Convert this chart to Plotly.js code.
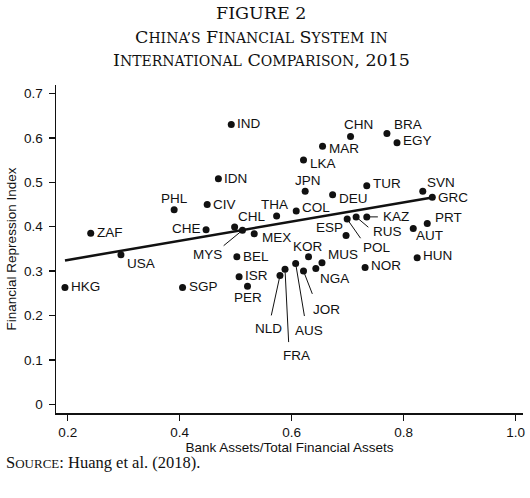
<!DOCTYPE html>
<html>
<head>
<meta charset="utf-8">
<script src="https://cdn.plot.ly/plotly-3.0.1.min.js"></script>
<style>html,body{margin:0;padding:0;background:#fff;}#chart{width:530px;height:498px;}</style>
</head>
<body>
<div id="chart"></div>
<script>
// ---- data ----
const countries = ["HKG","ZAF","USA","PHL","SGP","CHE","CIV","IDN","IND","CHL","BEL","ISR","MYS","PER","MEX",
  "THA","NLD","FRA","AUS","COL","LKA","JOR","JPN","KOR","NGA","MUS","MAR","DEU","ESP","POL","CHN","RUS",
  "NOR","KAZ","TUR","BRA","EGY","AUT","HUN","PRT","SVN","GRC"];
const bankAssetShare = [0.195,0.241,0.295,0.390,0.405,0.447,0.449,0.469,0.492,0.498,0.502,0.506,0.512,0.521,0.533,
  0.573,0.579,0.588,0.607,0.608,0.621,0.621,0.624,0.630,0.643,0.654,0.655,0.673,0.697,0.699,0.705,0.715,
  0.731,0.734,0.734,0.770,0.788,0.817,0.824,0.842,0.834,0.851];
const repressionIndex = [0.263,0.385,0.337,0.438,0.263,0.393,0.450,0.508,0.630,0.399,0.332,0.287,0.392,0.266,0.384,
  0.424,0.290,0.304,0.317,0.435,0.550,0.300,0.480,0.332,0.306,0.319,0.581,0.472,0.380,0.417,0.603,0.422,
  0.308,0.422,0.492,0.610,0.589,0.396,0.330,0.407,0.480,0.466];
const fitX = [0.195, 0.851];
const fitY = [0.324, 0.4655];
const xTicks = [0.2, 0.4, 0.6, 0.8, 1.0];
const xTickText = ["0.2","0.4","0.6","0.8","1.0"];
const yTicks = [0, 0.1, 0.2, 0.3, 0.4, 0.5, 0.6, 0.7];
const yTickText = ["0","0.1","0.2","0.3","0.4","0.5","0.6","0.7"];
const titleLines = ["FIGURE 2", "China’s Financial System in", "International Comparison, 2015"];
const sourceLabel = "Source:";
const sourceText = " Huang et al. (2018).";

// ---- label placement styles (pixel offsets from each dot) ----
// a: anchor l/r/c, dx,dy: screen px (dy positive = down), lead: leader end offset
const labelStyle = {
  PHL:{a:'c',dx:0,dy:-11}, CHE:{a:'r',dx:-3,dy:-1}, CHL:{a:'l',dx:1,dy:-10.7}, THA:{a:'c',dx:-1.7,dy:-12},
  USA:{a:'l',dx:3.7,dy:8.4}, PER:{a:'c',dx:0,dy:11.7}, CHN:{a:'c',dx:8.4,dy:-12.3}, BRA:{a:'l',dx:4.6,dy:-8.7},
  JPN:{a:'c',dx:3,dy:-11}, SVN:{a:'l',dx:2.7,dy:-8.3}, ESP:{a:'r',dx:-1.3,dy:-7.6}, PRT:{a:'l',dx:5.7,dy:-6},
  AUT:{a:'l',dx:0.7,dy:7}, MUS:{a:'l',dx:3.7,dy:-8.3}, NGA:{a:'l',dx:2.3,dy:10}, KOR:{a:'c',dx:-1,dy:-10.6},
  MEX:{a:'l',dx:5.4,dy:4}, IND:{a:'l',dx:4,dy:-1}, ZAF:{a:'l',dx:4,dy:-1}, HKG:{a:'l',dx:4,dy:-1},
  SGP:{a:'l',dx:4,dy:-1}, ISR:{a:'l',dx:4,dy:-1}, MAR:{a:'l',dx:4,dy:2}, LKA:{a:'l',dx:4,dy:3},
  EGY:{a:'l',dx:4,dy:-2}, DEU:{a:'l',dx:4,dy:4}, TUR:{a:'l',dx:4,dy:-2}, COL:{a:'l',dx:4,dy:-4},
  HUN:{a:'l',dx:4,dy:-2}, NOR:{a:'l',dx:4,dy:-2},
  MYS:{a:'c',dx:-35.3,dy:24,lead:[-20.3,16.7]}, POL:{a:'c',dx:30,dy:28,lead:[14.4,20.6]},
  RUS:{a:'c',dx:31.7,dy:15,lead:[13.7,11.6]}, KAZ:{a:'l',dx:14,dy:0,lead:[12.6,0]},
  NLD:{a:'c',dx:-11.7,dy:53,lead:[-9,41.4]}, FRA:{a:'c',dx:11.7,dy:86,lead:[3.7,74.3]},
  AUS:{a:'c',dx:13.7,dy:66.7,lead:[9,54]}, JOR:{a:'c',dx:22.7,dy:38.3,lead:[9.4,24.3]}
};
const defaultStyle = {a:'l',dx:4,dy:0};

const sans = "Liberation Sans, Arial, Helvetica, sans-serif";
const serif = "Liberation Serif, 'Times New Roman', serif";
const titleSerif = "DejaVu Serif, Liberation Serif, serif";
const ink = "#111111";

// small caps: lowercase runs become smaller capitals
function smallCaps(str, smallSize) {
  return str.replace(/[a-z’']+/g, m => '<span style="font-size:' + smallSize + 'px">' + m.toUpperCase() + '</span>');
}

// plot area geometry (px) used to place paper-referenced texts
const M = {l:56, r:7, t:85, b:85};
const plotW = 530 - M.l - M.r, plotH = 498 - M.t - M.b;
const px2paperX = px => (px - M.l) / plotW;
const px2paperY = py => (498 - M.b - py) / plotH;

const annotations = [];
countries.forEach((c, i) => {
  const s = labelStyle[c] || defaultStyle;
  annotations.push({
    x: bankAssetShare[i], y: repressionIndex[i], xref:'x', yref:'y', text: c, showarrow:false,
    xanchor: s.a==='l' ? 'left' : (s.a==='r' ? 'right' : 'center'), yanchor:'middle',
    xshift: s.dx, yshift: -s.dy, font:{family:sans, size:13.5, color:ink}
  });
  if (s.lead) {
    annotations.push({
      x: bankAssetShare[i], y: repressionIndex[i], xref:'x', yref:'y', text:'', showarrow:true,
      axref:'pixel', ayref:'pixel', ax: s.lead[0], ay: s.lead[1], arrowhead:0, arrowwidth:1,
      arrowcolor: ink, standoff: 3
    });
  }
});
const titleCenters = [13, 37, 60];
titleLines.forEach((t, k) => {
  annotations.push({
    xref:'paper', yref:'paper', x: px2paperX(261), y: px2paperY(titleCenters[k]),
    xanchor:'center', yanchor:'middle', showarrow:false, text: smallCaps(t, 14),
    font:{family:titleSerif, size:17.5, color:ink}
  });
});
annotations.push({
  xref:'paper', yref:'paper', x: px2paperX(4), y: px2paperY(462), xanchor:'left', yanchor:'middle', showarrow:false,
  text: smallCaps(sourceLabel, 13) + sourceText,
  font:{family:serif, size:16.5, color:ink}
});

const traces = [
  {x: fitX, y: fitY, type:'scatter', mode:'lines', line:{color:ink, width:2.5}, hoverinfo:'skip'},
  {x: bankAssetShare, y: repressionIndex, text: countries, type:'scatter', mode:'markers',
   marker:{color:ink, size:7}, hoverinfo:'text'}
];

const layout = {
  width:530, height:498, paper_bgcolor:'#fff', plot_bgcolor:'#fff', showlegend:false,
  margin:M,
  xaxis:{range:[0.179, 1.013], tickvals:xTicks, ticktext:xTickText, showgrid:false, zeroline:false,
    showline:true, linecolor:ink, linewidth:1.5, ticks:'outside', ticklen:6, tickwidth:1.3, tickcolor:ink,
    tickfont:{family:sans, size:13.5, color:ink},
    title:{text:'Bank Assets/Total Financial Assets', font:{family:sans, size:13.5, color:ink}, standoff:4}},
  yaxis:{range:[-0.0196, 0.719], tickvals:yTicks, ticktext:yTickText, showgrid:false, zeroline:false,
    showline:true, linecolor:ink, linewidth:1.5, ticks:'outside', ticklen:6, tickwidth:1.3, tickcolor:ink,
    tickfont:{family:sans, size:13.5, color:ink}, ticklabelstandoff:3,
    title:{text:'Financial Repression Index', font:{family:sans, size:13.5, color:ink}, standoff:4}},
  annotations: annotations
};

Plotly.newPlot('chart', traces, layout, {displayModeBar:false, staticPlot:true});
</script>
</body>
</html>
